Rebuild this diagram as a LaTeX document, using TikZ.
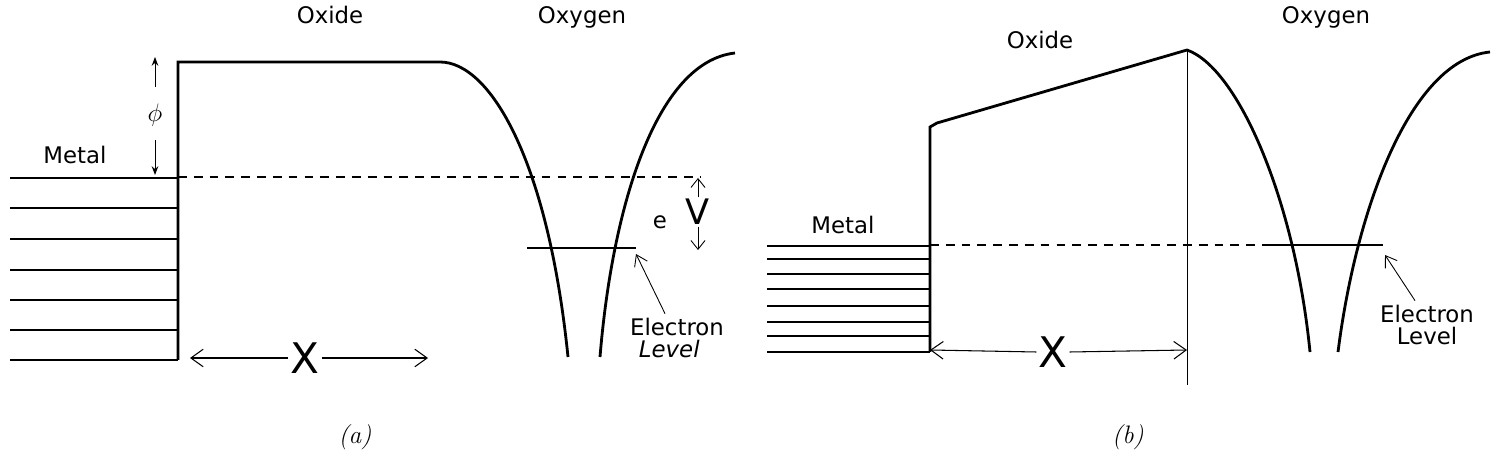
\documentclass[tikz,border=0pt]{standalone}
\usepackage{fontspec}
\newfontfamily\lab{DejaVu Sans}
\usetikzlibrary{arrows.meta}
\begin{document}
\begin{tikzpicture}[x=0.02cm,y=-0.02cm,
  thick/.style={line width=1.6pt},
  lvl/.style={line width=1.1pt},
  thinl/.style={line width=0.5pt},
  dsh/.style={line width=0.8pt,dash pattern=on 5pt off 4pt},
  lbl/.style={font=\lab\fontsize{13}{13}\selectfont,inner sep=1pt},
  oa/.style={line width=0.6pt,-{Straight Barb[length=7pt,width=10pt]}}]
\useasboundingbox (0,0) rectangle (1497,469);
% ---------- (a)
\foreach \y in {178,208,239,270,300,330,360} \draw[lvl] (10,\y) -- (178,\y);
\draw[thick] (178,360) -- (178,62) -- (440,62) .. controls (490,62) and (548,160) .. (568,357);
\draw[thick] (600,357) .. controls (612,210) and (655,62) .. (735,53);
\draw[dsh] (178,177) -- (700,177);
\draw[lvl] (527,248) -- (636,248);
\node[lbl] (metA) at (75,155) {Metal};
\node[lbl] (oxA) at (330,15) {Oxide};
\node[lbl] (oyA) at (582,17) {Oxygen};
\node[lbl,font=\lab\fontsize{15}{15}\selectfont] (phi) at (155,115) {$\phi$};
\coordinate (phT) at (155,57); \coordinate (phB) at (155,175);
\draw[thinl,-{Stealth[length=5pt]}] (phi.north)++(0,-15) -- (phT);
\draw[thinl,-{Stealth[length=5pt]}] (phi.south)++(0,12) -- (phB);
\node[lbl,font=\lab\fontsize{24}{24}\selectfont] (XA) at (305,358) {X};
\coordinate (xal) at (190,358); \coordinate (xar) at (428,358);
\draw[oa] (XA.west) -- (xal);
\draw[oa] (XA.east) -- (xar);
\node[lbl] (eA) at (660,222) {e};
\node[lbl,font=\lab\fontsize{20}{20}\selectfont] (VA) at (698,212) {V};
\coordinate (eT) at (698,178); \coordinate (eB) at (698,250);
\draw[thinl,-{Straight Barb[length=5pt,width=8pt]}] (VA.north) -- (eT);
\draw[thinl,-{Straight Barb[length=5pt,width=8pt]}] (VA.south) -- (eB);
\node[lbl,align=left] (elA) at (677,338) {Electron\\\hspace*{5pt}\itshape Level};
\coordinate (elAt) at (636,254);
\draw[thinl,-{Straight Barb[length=6pt,width=8pt]}] (elA.north)++(-12,-2) -- (elAt);
\node[font=\Large\itshape] (capA) at (355,437) {(a)};
% ---------- (b)
\foreach \y in {246,259,274,289,306,322,336,352} \draw[lvl] (767,\y) -- (930,\y);
\draw[thick] (930,352) -- (930,127) -- (937,123) -- (1187,50) .. controls (1238,68) and (1295,200) .. (1310,352);
\draw[thick] (1338,352) .. controls (1356,210) and (1410,60) .. (1490,52);
\draw[thinl] (1187,50) -- (1187,385);
\draw[dsh] (930,245) -- (1290,245);
\draw[lvl] (1270,245) -- (1383,245);
\node[lbl] (metB) at (843,225) {Metal};
\node[lbl] (oxB) at (1040,40) {Oxide};
\node[lbl] (oyB) at (1326,17) {Oxygen};
\node[lbl,font=\lab\fontsize{24}{24}\selectfont] (XB) at (1053,352) {X};
\coordinate (xbl) at (930,350); \coordinate (xbr) at (1187,350);
\draw[oa] (XB.west) -- (xbl);
\draw[oa] (XB.east) -- (xbr);
\node[lbl,align=center] (elB) at (1427,325) {Electron\\Level};
\coordinate (elBt) at (1385,255);
\draw[thinl,-{Straight Barb[length=6pt,width=8pt]}] (elB.north)++(-12,-2) -- (elBt);
\node[font=\Large\itshape] (capB) at (1128,437) {(b)};
\end{tikzpicture}
\end{document}
